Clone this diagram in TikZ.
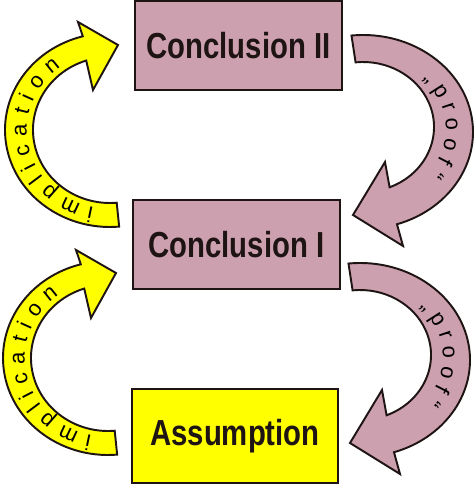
\documentclass[tikz,border=0pt]{standalone}
\usepackage{fontspec}
\newfontfamily\boxfont[FakeStretch=0.81]{Liberation Sans}
\newfontfamily\arcfont{Liberation Sans}
\newcommand\smalltype{\arcfont\fontsize{12.5}{14}\selectfont}
\usetikzlibrary{decorations.text}
\definecolor{mauve}{RGB}{205,160,175}
\definecolor{lemon}{RGB}{255,255,0}
\definecolor{ink}{RGB}{30,20,20}

\begin{document}
\begin{tikzpicture}[x=0.02cm, y=0.02cm]
	\tikzstyle{claim} = [rectangle, draw=ink, line width=1.1pt, inner sep=0pt, minimum width=4.14cm, minimum height=1.78cm, text=ink, font=\boxfont\bfseries\fontsize{20.6}{24}\selectfont]
	\tikzstyle{proofarrow} = [fill=mauve, draw=ink, line width=1.1pt]
	\tikzstyle{implarrow} = [fill=lemon, draw=ink, line width=1.1pt]
	\tikzstyle{arclabel} = [decorate, decoration={text along path, text align={fit to path}}]
	\useasboundingbox (0,0) rectangle (474,486);
	\node[claim, fill=mauve] (c2) at (238.5,440.5) {Conclusion II};
	\node[claim, fill=mauve] (c1) at (236.5,241.5) {Conclusion I};
	\node[claim, fill=lemon, minimum width=4.12cm, minimum height=1.88cm] (as) at (235,50) {Assumption};
	% implication arrows
	\filldraw[implarrow] (119.15,259.37) arc[start angle=275, end angle=105, x radius=105, y radius=97] -- (78,464) -- (118,441) -- (93,396) -- (86.21,425.43) arc[start angle=108, end angle=275, x radius=77, y radius=73] -- cycle;
	\filldraw[implarrow, shift={(-2,-228)}] (119.15,259.37) arc[start angle=275, end angle=105, x radius=105, y radius=97] -- (78,464) -- (118,441) -- (93,396) -- (86.21,425.43) arc[start angle=108, end angle=275, x radius=77, y radius=73] -- cycle;
	\path[arclabel, decoration={text={|\smalltype|implication}}] (93.86,278.93) arc[start angle=259, end angle=126, x radius=83, y radius=78];
	\path[arclabel, shift={(-2,-228)}, decoration={text={|\smalltype|implication}}] (93.86,278.93) arc[start angle=259, end angle=126, x radius=83, y radius=78];
	% proof arrows
	\filldraw[proofarrow, shift={(3,228)}] (348.50,222.47) arc[start angle=96, end angle=-72, x radius=110, y radius=97] -- (400,12) -- (350,43) -- (382,96) -- (386.60,70.73) arc[start angle=-68, end angle=96, x radius=71, y radius=65] -- cycle;
	\filldraw[proofarrow] (348.50,222.47) arc[start angle=96, end angle=-72, x radius=110, y radius=97] -- (400,12) -- (350,43) -- (382,96) -- (386.60,70.73) arc[start angle=-68, end angle=96, x radius=71, y radius=65] -- cycle;
	\path[arclabel, shift={(3,228)}, decoration={text={|\smalltype|„proof“}}] (419.70,179.02) arc[start angle=44, end angle=-37, x radius=83, y radius=72];
	\path[arclabel, decoration={text={|\smalltype|„proof“}}] (419.70,179.02) arc[start angle=44, end angle=-37, x radius=83, y radius=72];
\end{tikzpicture}
\end{document}
